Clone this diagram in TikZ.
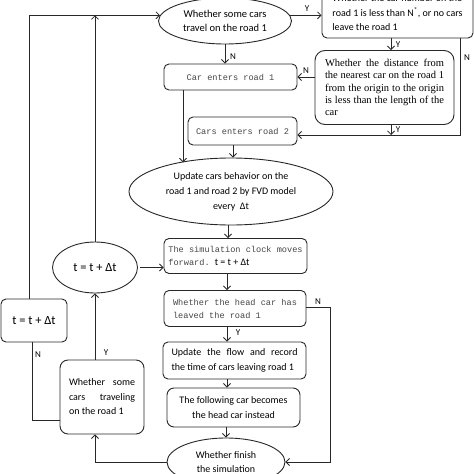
\documentclass[tikz,border=0pt]{standalone}
\usepackage{fontspec}
\setmainfont{Carlito}
\newfontfamily\monof{Liberation Mono}
\newfontfamily\serf{Liberation Serif}
\usetikzlibrary{shapes.geometric,arrows.meta}
\definecolor{lc}{RGB}{40,40,40}
\definecolor{mt}{RGB}{70,70,70}
\begin{document}
\begin{tikzpicture}[x=1pt,y=-1pt,
  line/.style={draw=lc,line width=0.8pt},
  arr/.style={line,-{Straight Barb[length=3.5pt,width=7pt]}},
  rbox/.style={draw=lc,line width=0.9pt,rounded corners=5pt,inner sep=0pt},
  ell/.style={draw=lc,line width=0.9pt,ellipse,inner sep=0pt},
  sans/.style={font=\fontsize{10}{14.5}\selectfont},
  mono/.style={font=\monof\fontsize{8.6}{13}\selectfont,text=mt},
  lab/.style={font=\fontsize{9}{10}\selectfont,inner sep=0pt},
  tt/.style={font=\fontsize{12.5}{15}\selectfont}
]
\useasboundingbox (0,0) rectangle (474,474);
\fill[white] (0,0) rectangle (474,474);

% nodes
\node[ell,font=\fontsize{10.5}{14}\selectfont,minimum width=133pt,minimum height=46pt,align=center] (e1) at (225,21) {Whether some cars\\travel on the road 1};
\node[rbox,sans,minimum width=151pt,minimum height=50pt,align=left] (b1) at (397.5,13) {Whether the car number on the\\road 1 is less than N\textsuperscript{*}, or no cars\\leave the road 1};
\node[rbox,rounded corners=10pt,minimum width=139pt,minimum height=74pt,align=left,font=\serf\fontsize{10.5}{12.3}\selectfont] (b2) at (384.5,87.5) {\hbox to 119pt{Whether the distance from}\\\hbox to 119pt{the nearest car on the road 1}\\\hbox to 119pt{from the origin to the origin}\\\hbox to 119pt{is less than the length of the}\\car};
\node[rbox,mono,minimum width=133pt,minimum height=26pt] (b3) at (230.5,77) {Car enters road 1};
\node[rbox,mono,minimum width=109pt,minimum height=28pt] (b4) at (242.5,131) {Cars enters road 2};
\node[ell,font=\fontsize{10}{15}\selectfont,minimum width=204pt,minimum height=67pt,align=center] (e2) at (231,191.5) {Update cars behavior on the\\road 1 and road 2 by FVD model\\every~~Δt};
\node[rbox,mono,minimum width=143pt,minimum height=35pt,align=left] (b5) at (235.5,256) {The simulation clock moves\\forward.\ {\color{black}\fontspec{Carlito}\fontsize{10}{13}\selectfont t = t + Δt}};
\node[ell,tt,minimum width=85pt,minimum height=51pt] (e3) at (95,267.5) {t = t + Δt};
\node[rbox,tt,minimum width=66pt,minimum height=43pt] (b6) at (34,320.5) {t = t + Δt};
\node[rbox,rounded corners=8pt,sans,minimum width=84pt,minimum height=74pt,align=left] (b7) at (102,397) {\hbox to 66pt{Whether some}\\\hbox to 66pt{cars traveling}\\on the road 1};
\node[rbox,mono,minimum width=142pt,minimum height=36pt,align=left] (b8) at (235,308.5) {Whether the head car has\\leaved the road 1};
\node[rbox,sans,minimum width=143pt,minimum height=37pt,align=left] (b9) at (234.5,360.5) {\hbox to 126pt{Update the flow and record}\\the time of cars leaving road 1};
\node[rbox,sans,rounded corners=7pt,minimum width=133pt,minimum height=39pt,align=center] (b10) at (233.5,407.5) {The following car becomes\\the head car instead};
\node[ell,sans,minimum width=118pt,minimum height=48pt,align=center] (e4) at (226,462) {Whether finish\\the simulation};

% labels
\node[lab] (ly1) at (307,9) {Y};
\node[lab] (ly2) at (398,45) {Y};
\node[lab] (ln1) at (467,58) {N};
\node[lab] (ly3) at (398,130) {Y};
\node[lab] (ln2) at (306,71) {N};
\node[lab] (ln3) at (233,57) {N};
\node[lab] (ly4) at (106,353) {Y};
\node[lab] (ln4) at (38,355) {N};
\node[lab] (ln5) at (318,302) {N};
\node[lab] (ly5) at (238,333) {Y};

% junctions
\coordinate (j1) at (460,135);
\coordinate (j2) at (391,135);
\coordinate (t1) at (183,162.3);

% connectors
\draw[arr] (e1.5) -- (e1.5 -| b1.west);
\draw[arr] (391,0 |- b1.south) -- (391,0 |- b2.north);
\draw[arr] (460,0 |- b1.south) -- (j1) -- (b4.east |- j1);
\draw[arr] (391,0 |- b2.south) -- (j2);
\draw[arr] (b2.west |- b3.east) -- (b3.east);
\draw[arr] (e1.south) -- (e1.south |- b3.north);
\draw[arr] (183,0 |- b3.south) -- (t1);
\draw[arr] (233,0 |- b4.south) -- (233,0 |- e2.north);
\draw[arr] (228,0 |- e2.south) -- (228,0 |- b5.north);
\draw[arr,shorten <=2pt] (e3.east) -- (e3.east -| b5.west);
\draw[arr] (e3.north) -- (e3.north |- e1.175);
\draw[arr] (29,0 |- b6.north) -- (29,0 |- e1.175) -- (e1.175);
\draw[arr] (e3.south |- b7.north) -- (e3.south);
\draw[line] (b7.west |- 0,420) -- (32,420) -- (32,0 |- b6.south);
\draw[arr] (227,0 |- b5.south) -- (227,0 |- b8.north);
\draw[arr] (227,0 |- b8.south) -- (227,0 |- b9.north);
\draw[arr] (227,0 |- b9.south) -- (227,0 |- b10.north);
\draw[arr] (226,0 |- b10.south) -- (e4.north);
\draw[arr] (b8.east |- 0,307) -- (330,307) -- (330,0 |- e4.east) -- (e4.east);
\draw[arr] (e4.west) -- (95,0 |- e4.west) -- (95,0 |- b7.south);
\end{tikzpicture}
\end{document}
